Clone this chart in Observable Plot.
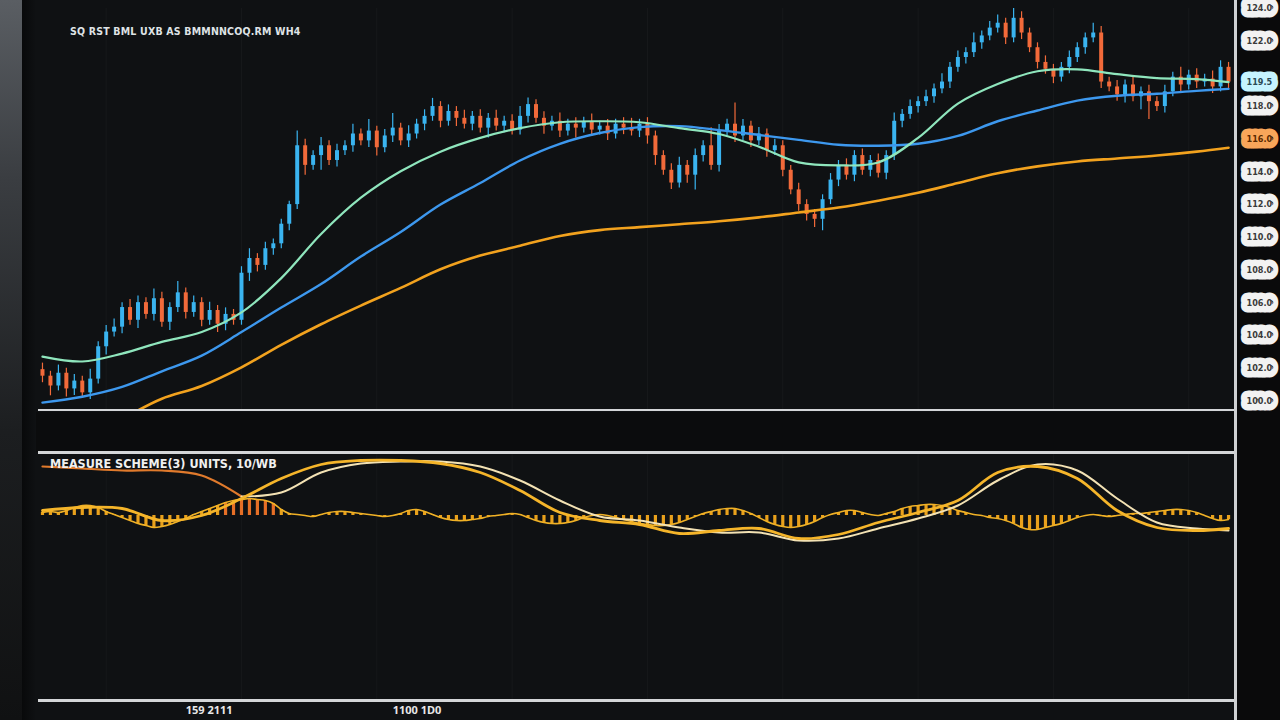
<!DOCTYPE html>
<html><head><meta charset="utf-8">
<script src="https://cdn.jsdelivr.net/npm/d3@7"></script>
<script src="https://cdn.jsdelivr.net/npm/@observablehq/plot@0.6"></script>
<style>
html,body{margin:0;padding:0;width:1280px;height:720px;overflow:hidden;background:#0f1113;font-family:"DejaVu Sans Condensed","DejaVu Sans",sans-serif;}
#bezel{position:absolute;left:0;top:0;width:22px;height:720px;background:linear-gradient(180deg,#5a5e63 0%,#3a3d41 25%,#1c1e20 60%,#101112 100%);}
#bezel2{position:absolute;left:22px;top:0;width:14px;height:720px;background:linear-gradient(90deg,#08090a,#0f1113);}
#axisStrip{position:absolute;left:1236px;top:0;width:44px;height:720px;background:#0a0a0b;}
#vline{position:absolute;left:1234px;top:0;width:3px;height:720px;background:#cfd1d3;}
#gap{position:absolute;left:36px;top:412px;width:1198px;height:40px;background:#0b0c0d;}
#topPanel,#bottomPanel{position:absolute;left:0;}
#topPanel{top:0}
#bottomPanel{top:446px}
.lbl{position:absolute;color:#dfe3e6;font-weight:bold;white-space:nowrap;z-index:5}
</style></head><body>
<div id="bezel"></div><div id="bezel2"></div><div id="axisStrip"></div><div id="gap"></div>
<div id="topPanel"></div><div id="bottomPanel"></div><div id="vline"></div>
<div class="lbl" style="left:70px;top:25px;font-size:10.5px;letter-spacing:0.2px">SQ RST BML UXB AS BMMNNCOQ.RM WH4</div>
<div class="lbl" style="left:50px;top:456px;font-size:12.5px;color:#f0f0f0">MEASURE SCHEME(3) UNITS, 10/WB</div>
<script>
// ---- price candles (open = previous close) ----
const firstOpen = 101.9;
const closes = [101.5,100.9,101.68,100.72,101.2,100.48,101.32,103.3,104.2,104.5,
105.7,104.92,106.0,105.28,106.24,104.8,105.7,106.6,105.4,106.0,
104.92,105.52,104.68,105.28,104.92,107.8,108.7,108.28,109.3,109.6,
110.8,112.0,115.6,114.4,115.0,115.6,114.7,115.3,115.6,116.32,
115.9,116.5,115.48,116.2,116.68,115.9,116.32,116.92,117.4,118.0,
117.1,117.7,117.28,116.92,117.4,116.68,117.28,116.8,117.1,116.56,
117.4,118.12,117.28,116.8,117.1,116.5,116.92,116.68,117.04,116.56,
116.8,116.32,116.92,116.68,116.5,116.92,116.2,115.0,114.1,113.32,
114.4,113.8,115.0,115.6,114.4,116.5,116.92,116.2,116.8,115.9,
116.32,115.3,115.6,114.1,112.9,112.0,111.4,111.1,112.3,113.5,
114.4,113.8,115.0,114.1,114.7,113.92,115.0,117.1,117.52,118.0,
118.3,118.6,119.08,119.5,120.4,121.0,121.3,121.9,122.32,122.8,
123.1,122.2,123.4,122.5,121.6,120.7,120.28,119.8,120.4,121.0,
121.6,122.2,122.5,119.5,119.2,118.72,119.32,118.6,118.9,118.3,
118.0,118.9,119.8,119.32,119.92,119.5,119.68,119.2,120.4,119.5];
const wickUp = [0.4,0.3,0.5,0.3,0.4,0.3,0.6,0.3,0.4,0.5,
0.3,0.5,0.4,0.3,0.6,0.4,0.3,0.7,0.3,0.4,
0.3,0.5,0.3,0.4,0.3,0.4,0.6,0.3,0.4,0.3,
0.3,0.2,0.9,0.4,0.3,0.5,0.3,0.4,0.3,0.6,
0.3,0.7,0.3,0.4,0.9,0.3,0.5,0.3,0.4,0.5,
0.3,0.4,0.3,0.5,0.3,0.4,0.3,0.5,0.3,0.4,
0.6,0.4,0.3,0.4,0.3,0.5,0.3,0.4,0.3,0.5,
0.3,0.4,0.3,0.4,0.6,0.3,0.4,0.3,0.3,0.4,
0.5,0.3,0.4,0.3,1.1,0.4,0.3,1.3,0.4,0.3,
0.4,0.3,0.4,0.3,0.3,0.4,0.3,0.3,0.3,0.4,
0.3,0.4,0.3,0.4,0.3,0.4,0.3,0.5,0.3,0.4,
0.3,0.4,0.3,0.5,0.3,0.4,0.3,0.6,0.3,0.4,
0.5,0.3,0.6,0.4,0.3,0.3,0.4,0.3,0.3,0.4,
0.3,0.3,0.6,0.4,0.3,0.4,0.3,0.5,0.3,0.4,
0.3,0.4,0.3,0.6,0.3,0.4,0.3,0.5,0.4,0.3];
const wickDn = [0.4,0.6,0.3,0.5,0.4,0.3,0.4,0.3,0.5,0.3,
0.4,0.3,0.5,0.3,0.4,0.3,0.5,0.3,0.4,0.3,
0.4,0.3,0.5,0.4,0.3,0.3,0.5,0.4,0.3,0.4,
0.3,0.4,0.3,0.6,0.3,0.9,0.3,0.4,0.3,0.4,
0.3,0.4,0.5,0.3,0.4,0.3,0.4,0.3,0.4,0.3,
0.4,0.3,0.5,0.3,0.4,0.3,0.6,0.3,0.4,0.3,
0.3,0.4,0.3,0.5,0.3,0.4,0.3,0.6,0.3,0.4,
0.3,0.4,0.3,0.4,0.3,0.4,0.5,0.6,0.3,0.4,
0.3,0.5,0.9,0.4,0.3,0.4,0.3,0.4,0.3,0.4,
0.3,0.4,0.3,0.4,0.3,0.4,0.4,0.5,0.7,0.3,
0.4,0.3,0.4,0.3,0.4,0.3,0.4,0.3,0.4,0.3,
0.4,0.3,0.4,0.3,0.4,0.3,0.4,0.3,0.4,0.3,
0.3,0.4,0.3,0.4,0.3,0.4,0.3,0.4,0.3,0.4,
0.3,0.4,0.3,0.4,0.3,0.4,0.5,0.3,0.8,1.1,
0.3,0.4,0.3,0.4,0.3,0.4,0.3,0.4,0.3,0.4];

// ---- moving averages ----
const maK = [0,5,10,15,20,25,30,35,40,45,50,55,60,65,70,75,80,85,90,95,100,105,110,115,120,125,130,135,140,145,149];
const maGreen = [102.7,102.4,102.88,103.6,104.2,105.4,107.5,110.2,112.42,114.04,115.24,116.08,116.68,117.04,117.1,117.04,116.68,116.32,115.54,114.58,114.4,114.58,116.08,118.18,119.38,120.16,120.28,119.98,119.74,119.68,119.5];
const maBlue = [99.88,100.24,100.84,101.8,102.76,104.2,105.7,107.14,108.82,110.32,112.0,113.32,114.7,115.72,116.38,116.74,116.8,116.56,116.26,115.96,115.66,115.6,115.72,116.2,117.1,117.76,118.36,118.66,118.78,118.96,119.08];
const orangeK = [12,15,20,25,30,35,40,45,50,55,60,65,70,75,80,85,90,95,100,105,110,115,120,125,130,135,140,145,149];
const maOrange = [99.4,100.12,100.9,102.04,103.42,104.68,105.82,106.9,108.04,108.88,109.48,110.08,110.44,110.62,110.8,110.98,111.22,111.52,111.82,112.24,112.72,113.32,113.92,114.34,114.64,114.82,115.0,115.24,115.48];

// ---- price axis labels ----
const priceTicks = [124,122,118,114,112,110,108,106,104,102,100];
const orangeLabel = 116.0;

// ---- lower indicator panel ----
const macd = [0.5,0.8,0.7,-0.5,0,1.7,3.7,5.1,5.5,5.5,5.2,4.3,2.5,0.3,-0.5,-0.9,-1.8,-1.5,-1.3,-2.3,-1.9,-0.7,0.3,1.5,4.3,4.9,3.7,0.5,-1.2,-1.5,-1.3];
const signal = [4.9,4.7,4.5,4.5,4.0,1.9,2.3,4.3,5.2,5.4,5.4,4.9,3.5,1.5,-0.1,-0.5,-1.2,-1.7,-1.7,-2.5,-2.3,-1.3,-0.3,1.0,3.5,5.1,4.5,1.7,-0.7,-1.3,-1.5];
const hist = [0.3,0.4,0.3,0.5,0.8,1.0,1.0,0.8,0.4,0.1,
-0.2,-0.5,-0.8,-1.0,-1.2,-1.1,-0.9,-0.6,-0.3,0.1,
0.4,0.7,1.0,1.3,1.5,1.6,1.7,1.6,1.5,1.2,
0.6,0.2,0.1,0.0,-0.1,0.1,0.3,0.4,0.4,0.3,
0.2,0.1,0.0,-0.1,0.0,0.2,0.5,0.6,0.4,0.1,
-0.2,-0.4,-0.5,-0.5,-0.4,-0.3,-0.1,0.0,0.1,0.2,
0.1,-0.2,-0.5,-0.7,-0.8,-0.8,-0.7,-0.5,-0.2,0.0,
0.1,0.0,-0.2,-0.4,-0.6,-0.8,-0.9,-1.0,-1.0,-0.9,
-0.7,-0.4,-0.1,0.2,0.4,0.6,0.7,0.7,0.5,0.2,
-0.2,-0.6,-0.9,-1.1,-1.2,-1.1,-0.9,-0.6,-0.2,0.1,
0.3,0.5,0.5,0.3,0.1,0.0,0.2,0.4,0.7,0.9,
1.0,1.1,1.1,1.0,0.8,0.5,0.3,0.1,0.0,-0.2,
-0.3,-0.5,-0.8,-1.2,-1.4,-1.4,-1.2,-1.0,-0.8,-0.5,
-0.2,0.0,0.1,0.0,-0.1,0.0,0.1,0.2,0.2,0.3,
0.4,0.5,0.6,0.6,0.5,0.3,0.0,-0.3,-0.5,-0.4];
const dateK = [18,44];
const dateLabels = ["159 2111","1100 1D0"];

// ---- build tables ----
const N = closes.length;
const candles = closes.map((c, i) => {
  const o = i === 0 ? firstOpen : closes[i - 1];
  return {k: i, o, c, h: Math.max(o, c) + wickUp[i], l: Math.min(o, c) - wickDn[i]};
});
const col = d => Math.abs(d.c - d.o) < 0.13 ? "#e6ecef" : (d.c > d.o ? "#3ab4f0" : "#f26a3a");
const toPts = (ks, vs) => ks.map((k, i) => ({k, v: vs[i]}));
const green = toPts(maK, maGreen), blue = toPts(maK, maBlue), orange = toPts(orangeK, maOrange);
const macdPts = toPts(maK, macd), sigPts = toPts(maK, signal);
const histPts = hist.map((v, k) => ({k, v}));
const dates = dateK.map((k, i) => ({k, label: dateLabels[i]}));
const xDomain = [-0.5, N];
const grid = d3.range(8, N, 17);
const yTop = [99.4, 124];
const yBot = [-18.5, 6.3];
const pill = {frameAnchor: "right", textAnchor: "start", dx: 10, fontSize: 9, fontWeight: "bold",
  fontFamily: "DejaVu Sans Condensed", strokeWidth: 13, strokeLinejoin: "round"};

const topChart = Plot.plot({
  width: 1280, height: 411, marginTop: 8, marginBottom: 1, marginLeft: 38, marginRight: 44,
  x: {domain: xDomain, axis: null},
  y: {domain: yTop, axis: null},
  marks: [
    Plot.ruleX(grid, {x: d => d, stroke: "#ffffff", strokeOpacity: 0.035}),
    Plot.ruleX(candles, {x: "k", y1: "l", y2: "h", stroke: col, strokeWidth: 1.2}),
    Plot.ruleX(candles, {x: "k", y1: "o", y2: "c", stroke: col, strokeWidth: 4}),
    Plot.line(orange, {x: "k", y: "v", stroke: "#f2a21e", strokeWidth: 2.6, curve: "catmull-rom"}),
    Plot.line(blue, {x: "k", y: "v", stroke: "#3d98ee", strokeWidth: 2.4, curve: "catmull-rom"}),
    Plot.line(green, {x: "k", y: "v", stroke: "#8fe6bd", strokeWidth: 2.2, curve: "catmull-rom"}),
    Plot.ruleY([yTop[0]], {stroke: "#d4d6d8", strokeWidth: 3}),
    Plot.text(priceTicks, {...pill, y: d => d, text: d => d.toFixed(1), fill: "#3a3a3a", stroke: "#f2f2f2"}),
    Plot.text([closes[N - 1]], {...pill, y: d => d, text: d => d.toFixed(1), fill: "#2a4a55", stroke: "#c6f4ff"}),
    Plot.text([orangeLabel], {...pill, y: d => d, text: d => d.toFixed(1), fill: "#5a2a00", stroke: "#f8a65a"})
  ]
});
topChart.style.background = "transparent";
document.getElementById("topPanel").appendChild(topChart);

const bottomChart = Plot.plot({
  width: 1280, height: 274, marginTop: 6, marginBottom: 20, marginLeft: 38, marginRight: 44,
  x: {domain: xDomain, axis: null},
  y: {domain: yBot, axis: null},
  marks: [
    Plot.ruleX(grid, {x: d => d, stroke: "#ffffff", strokeOpacity: 0.03}),
    Plot.ruleX(histPts, {x: "k", y1: 0, y2: "v", stroke: d => d.v >= 1.2 ? "#e66f26" : "#e9a11c", strokeWidth: 3.2}),
    Plot.line(histPts, {x: "k", y: "v", stroke: "#f0b126", strokeWidth: 1.6, curve: "catmull-rom"}),
    Plot.line(sigPts.filter(d => d.k <= 25), {x: "k", y: "v", stroke: "#e07a2c", strokeWidth: 2.2, curve: "catmull-rom"}),
    Plot.line(sigPts.filter(d => d.k >= 25), {x: "k", y: "v", stroke: "#f3e2b4", strokeWidth: 2, curve: "catmull-rom"}),
    Plot.line(macdPts, {x: "k", y: "v", stroke: "#f5b52a", strokeWidth: 2.8, curve: "catmull-rom"}),
    Plot.ruleY([yBot[1]], {stroke: "#d4d6d8", strokeWidth: 3}),
    Plot.ruleY([yBot[0]], {stroke: "#d4d6d8", strokeWidth: 3}),
    Plot.text(dates, {x: "k", text: "label", frameAnchor: "bottom", lineAnchor: "top", textAnchor: "start", dy: 6,
      fill: "#e8e8e8", fontSize: 11, fontWeight: "bold"})
  ]
});
bottomChart.style.background = "transparent";
document.getElementById("bottomPanel").appendChild(bottomChart);
</script>
</body></html>
